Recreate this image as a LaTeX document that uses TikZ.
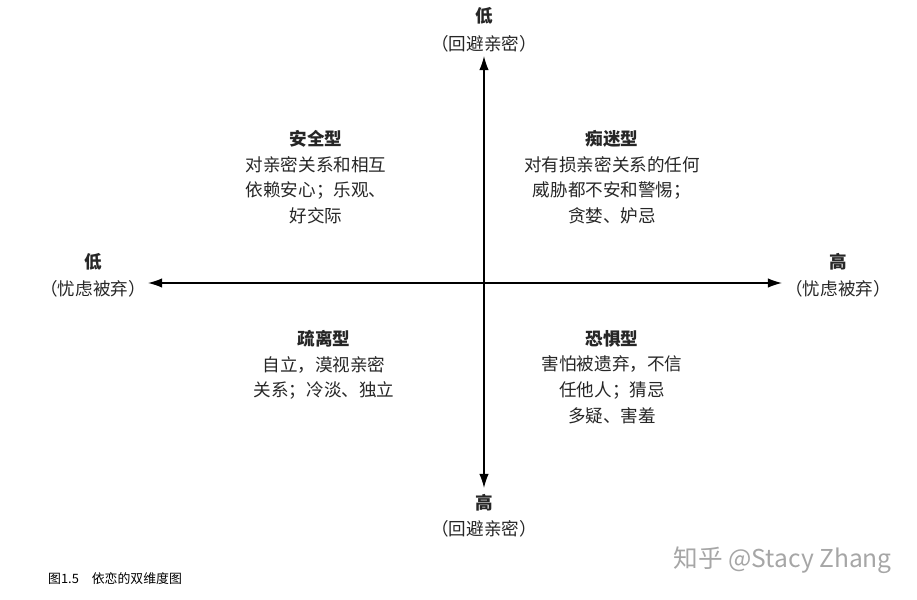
\documentclass[tikz,border=0pt]{standalone}
\usepackage{fontspec}
\setmainfont{Noto Sans CJK SC}
\usetikzlibrary{arrows.meta}

\begin{document}
\begin{tikzpicture}[x=0.03cm, y=-0.03cm,
  lbl/.style={font=\fontsize{15}{16}\selectfont, text=black!85},
  quad/.style={font=\fontsize{15}{22}\selectfont, align=center, text=black!85},
  axis/.style={-{Latex[length=12pt,width=8pt]}, line width=1.1pt}]
\useasboundingbox (0,0) rectangle (917,600);
% 坐标轴
\coordinate (o) at (484,283);
\coordinate (top) at (484,56);
\coordinate (bot) at (484,488);
\coordinate (lft) at (148,283);
\coordinate (rgt) at (782,283);
\draw[axis] (o) -- (top);
\draw[axis] (o) -- (bot);
\draw[axis] (o) -- (lft);
\draw[axis] (o) -- (rgt);

% 轴端标签
\node[lbl, font=\bfseries\fontsize{15}{16}\selectfont] (tA) at (484,16) {低};
\node[lbl] (tB) at (484,44) {（回避亲密）};
\node[lbl, font=\bfseries\fontsize{15}{16}\selectfont] (bA) at (484,503) {高};
\node[lbl] (bB) at (484,529) {（回避亲密）};
\node[lbl, font=\bfseries\fontsize{15}{16}\selectfont] (lA) at (93,262) {低};
\node[lbl] (lB) at (93,289) {（忧虑被弃）};
\node[lbl, font=\bfseries\fontsize{15}{16}\selectfont] (rA) at (838,262) {高};
\node[lbl] (rB) at (838,289) {（忧虑被弃）};

% 四个象限
\node[quad, anchor=north] (secure) at (316,126) {\textbf{安全型}\\对亲密关系和相互\\依赖安心；乐观、\\好交际};
\node[quad, anchor=north] (preocc) at (612,126) {\textbf{痴迷型}\\对有损亲密关系的任何\\威胁都不安和警惕；\\贪婪、妒忌};
\node[quad, anchor=north] (dismiss) at (324,326) {\textbf{疏离型}\\自立，漠视亲密\\关系；冷淡、独立};
\node[quad, anchor=north] (fear) at (612,326) {\textbf{恐惧型}\\害怕被遗弃，不信\\任他人；猜忌\\多疑、害羞};

% 图注与水印
\node[anchor=west, font=\fontsize{11}{12}\selectfont] (cap) at (44,579) {图1.5\quad 依恋的双维度图};
\node[anchor=east, font=\fontsize{21}{24}\selectfont, text=black!35] (wm) at (896,560) {知乎 @Stacy Zhang};
\end{tikzpicture}
\end{document}
